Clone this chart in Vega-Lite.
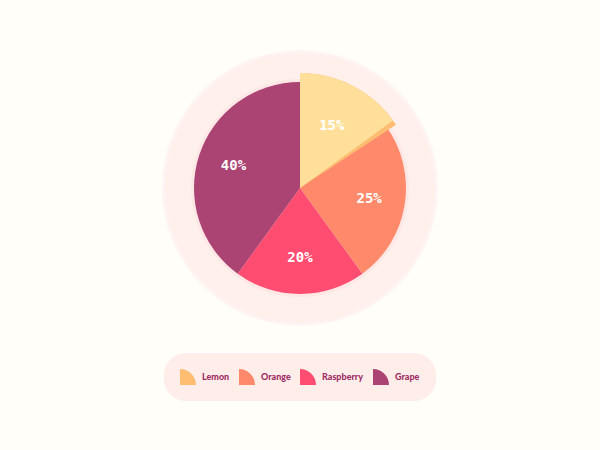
{
  "$schema": "https://vega.github.io/schema/vega-lite/v6.json",
  "width": 600,
  "height": 376,
  "autosize": "none",
  "padding": {"left": 0, "top": 0, "right": 0, "bottom": 74},
  "background": "#FFFEF9",
  "data": {
    "values": [
      {"i": 1, "fruit": "Lemon", "pct": 15, "label": "15%"},
      {"i": 2, "fruit": "Orange", "pct": 25, "label": "25%"},
      {"i": 3, "fruit": "Raspberry", "pct": 20, "label": "20%"},
      {"i": 4, "fruit": "Grape", "pct": 40, "label": "40%"}
    ]
  },
  "layer": [
    {
      "data": {"values": [{"pct": 100}]},
      "mark": {"type": "arc", "outerRadius": 138, "fill": "#FFE1E6", "opacity": 0.35},
      "encoding": {"theta": {"field": "pct", "type": "quantitative", "scale": {"domain": [0, 100]}}}
    },
    {
      "data": {"values": [{"pct": 100}]},
      "mark": {"type": "arc", "outerRadius": 135, "fill": "#FFF0EC"},
      "encoding": {"theta": {"field": "pct", "type": "quantitative", "scale": {"domain": [0, 100]}}}
    },
    {
      "data": {"values": [{"pct": 100}]},
      "mark": {"type": "arc", "outerRadius": 109, "fill": "#FEE7E4"},
      "encoding": {"theta": {"field": "pct", "type": "quantitative", "scale": {"domain": [0, 100]}}}
    },
    {
      "mark": {"type": "arc", "outerRadius": 106},
      "encoding": {
        "theta": {"field": "pct", "type": "quantitative", "stack": true, "scale": {"domain": [0, 100]}},
        "order": {"field": "i", "type": "quantitative"},
        "color": {
          "field": "fruit",
          "type": "nominal",
          "scale": {
            "domain": ["Lemon", "Orange", "Raspberry", "Grape"],
            "range": ["#FFBD72", "#FF8A6B", "#FF4D72", "#AB4373"]
          },
          "legend": {
            "title": null,
            "orient": "none",
            "legendX": 164,
            "legendY": 353,
            "direction": "horizontal",
            "fillColor": "#FFEDE9",
            "cornerRadius": 22,
            "padding": 16,
            "symbolType": "M-1,1L-1,-1A2,2 0 0 1 1,1Z",
            "symbolSize": 256,
            "symbolStrokeWidth": 0,
            "symbolOpacity": 1,
            "labelFont": "Lato",
            "labelFontWeight": 900,
            "labelFontSize": 9,
            "labelColor": "#A02F66",
            "labelOffset": 6,
            "columnPadding": 9
          }
        }
      }
    },
    {
      "transform": [{"filter": "datum.fruit == 'Lemon'"}],
      "mark": {"type": "arc", "outerRadius": 115, "fill": "#FFBD72", "thetaOffset": 0.045},
      "encoding": {
        "theta": {"field": "pct", "type": "quantitative", "stack": true, "scale": {"domain": [0, 100]}}
      }
    },
    {
      "transform": [{"filter": "datum.fruit == 'Lemon'"}],
      "mark": {"type": "arc", "outerRadius": 115, "fill": "#FFDF99"},
      "encoding": {
        "theta": {"field": "pct", "type": "quantitative", "stack": true, "scale": {"domain": [0, 100]}}
      }
    },
    {
      "mark": {"type": "text", "radius": 70, "fill": "#FFFFFF", "font": "DejaVu Sans Mono", "fontWeight": "bold", "fontSize": 14},
      "encoding": {
        "theta": {"field": "pct", "type": "quantitative", "stack": true, "scale": {"domain": [0, 100]}},
        "order": {"field": "i", "type": "quantitative"},
        "detail": {"field": "fruit"},
        "text": {"field": "label"}
      }
    }
  ],
  "config": {"view": {"stroke": null}}
}
